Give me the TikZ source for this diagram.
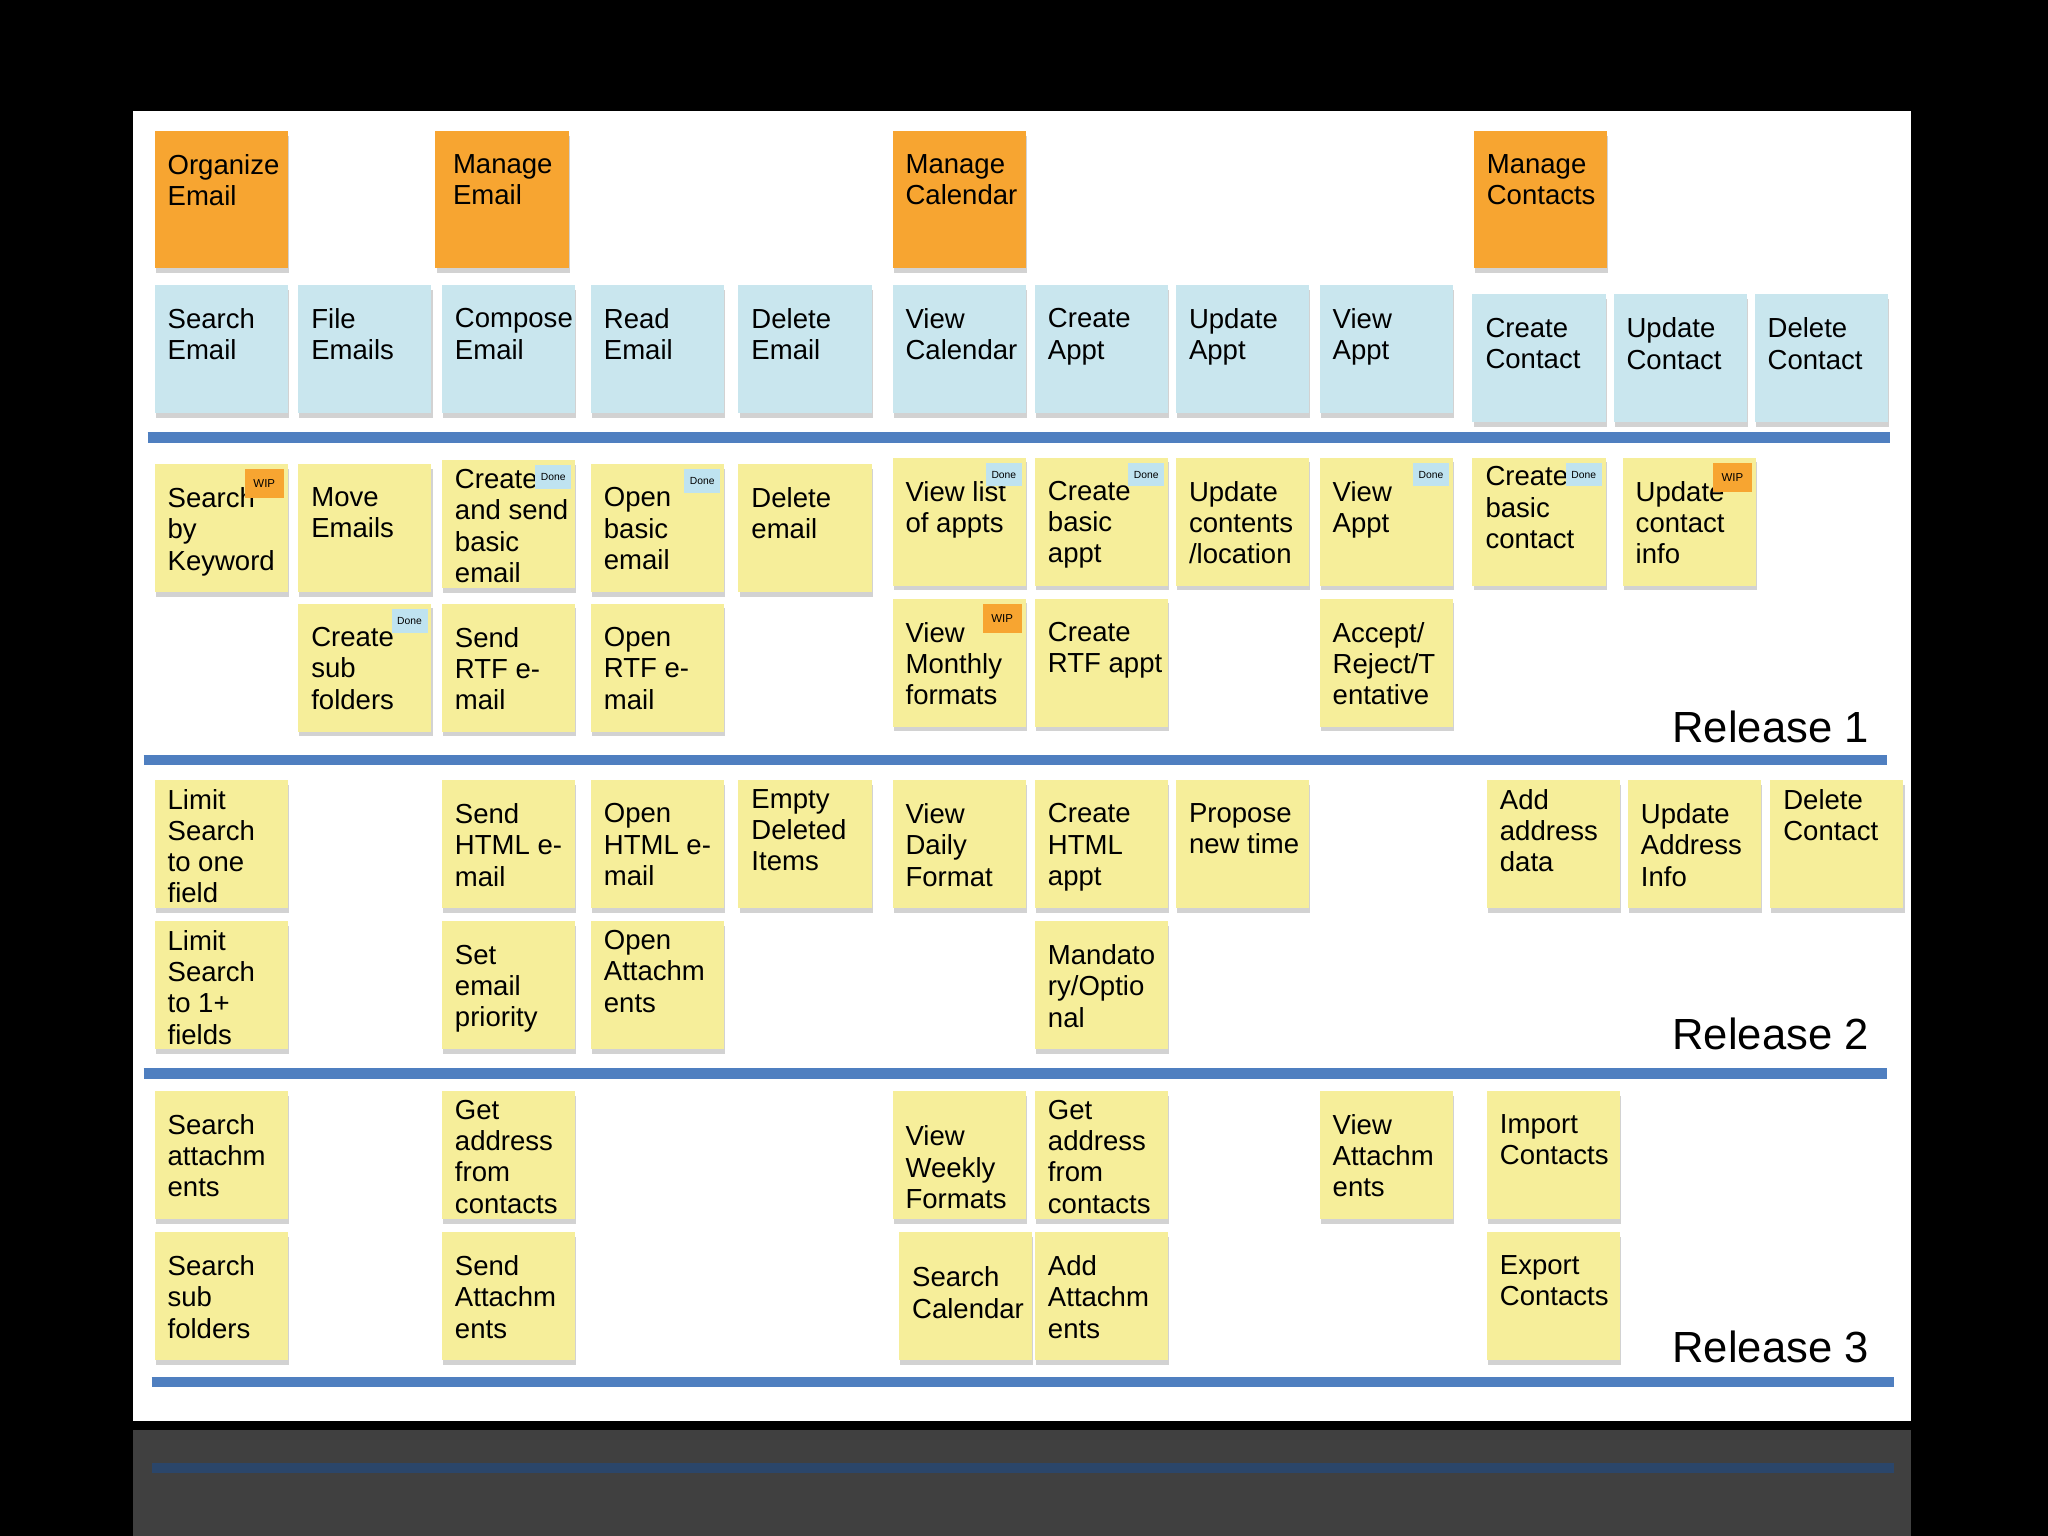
\documentclass[tikz,border=0pt]{standalone}
\usepackage{fontspec}
\setmainfont{Liberation Sans}
\usetikzlibrary{shadows}
\definecolor{yel}{HTML}{F6EE9A}
\definecolor{blu}{HTML}{C9E6EE}
\definecolor{org}{HTML}{F7A531}
\definecolor{bar}{HTML}{4F7FC0}
\definecolor{tagb}{HTML}{BFE3F0}
\tikzset{
 notebase/.style={anchor=north west,minimum width=2.04cm,minimum height=1.96cm,inner sep=0pt,
   drop shadow={shadow xshift=0.5pt,shadow yshift=-2pt,opacity=0.35}},
 ynote/.style={notebase,fill=yel},
 bnote/.style={notebase,fill=blu},
 onote/.style={notebase,fill=org,minimum height=2.1cm},
 txt/.style={anchor=north west,align=left,inner sep=0pt,font=\fontsize{12}{13.6}\selectfont},
 done/.style={fill=tagb,font=\fontsize{4.5}{5}\selectfont,inner sep=1pt,minimum width=0.55cm,minimum height=0.36cm,anchor=north east},
 wip/.style={fill=org,font=\fontsize{5}{5}\selectfont,inner sep=1pt,minimum width=0.6cm,minimum height=0.44cm,anchor=north east},
 relbar/.style={draw=bar,line width=4.5pt},
 rel/.style={anchor=south east,font=\fontsize{19}{20}\selectfont}
}
\newcommand{\tagdone}{Done}
\newcommand{\tagwip}{WIP}
\newcommand{\tshift}{-0.36cm}
\newcommand{\nt}[6]{%
 \node[#4] (#1) at (#2,#3) {};
 \node[txt] (#1t) at ([xshift=0.2cm,yshift=\tshift]#1.north west) {#5};
 \ifx&#6&\else\node[#6] (#1g) at ([xshift=-0.06cm,yshift=-0.08cm]#1.north east) {\csname tag#6\endcsname};\fi}
\newcommand{\ntf}[6]{{\renewcommand{\tshift}{-0.14cm}\nt{#1}{#2}{#3}{#4}{#5}{#6}}}
\begin{document}
\begin{tikzpicture}[x=0.02cm,y=-0.02cm]
\fill[black] (0,0) rectangle (1568,1176);
\useasboundingbox (0,0) rectangle (1568,1176);
\fill[white] (102,85) rectangle (1463,1088);
\fill[black!75] (102,1095) rectangle (1463,1176);
\fill[bar!55!black] (116,1120) rectangle (1450,1128);
% epics
\nt{o1}{118}{100}{onote}{Organize\\Email}{}
\nt{o2}{333}{100}{onote}{\,Manage\\\,Email}{}
\nt{o3}{683}{100}{onote}{Manage\\Calendar}{}
\nt{o4}{1128}{100}{onote}{Manage\\Contacts}{}
% activities
\nt{b1}{118}{218}{bnote}{Search\\Email}{}
\nt{b2}{228}{218}{bnote}{File\\Emails}{}
\nt{b3}{338}{218}{bnote}{Compose\\Email}{}
\nt{b4}{452}{218}{bnote}{Read\\Email}{}
\nt{b5}{565}{218}{bnote}{Delete\\Email}{}
\nt{b6}{683}{218}{bnote}{View\\Calendar}{}
\nt{b7}{792}{218}{bnote}{Create\\Appt}{}
\nt{b8}{900}{218}{bnote}{Update\\Appt}{}
\nt{b9}{1010}{218}{bnote}{View\\Appt}{}
\nt{b10}{1127}{225}{bnote}{Create\\Contact}{}
\nt{b11}{1235}{225}{bnote}{Update\\Contact}{}
\nt{b12}{1343}{225}{bnote}{Delete\\Contact}{}
\coordinate (l1a) at (113,335); \coordinate (l1b) at (1447,335);
\draw[relbar] (l1a) -- (l1b);
% release 1
\nt{a1}{118}{355}{ynote}{Search\\by\\Keyword}{wip}
\nt{a2}{228}{355}{ynote}{Move\\Emails}{}
\ntf{a3}{338}{352}{ynote}{Create\\and send\\basic\\email}{done}
\nt{a4}{452}{355}{ynote}{Open\\basic\\email}{done}
\nt{a5}{565}{355}{ynote}{Delete\\email}{}
\nt{a6}{683}{350}{ynote}{View list\\of appts}{done}
\nt{a7}{792}{350}{ynote}{Create\\basic\\appt}{done}
\nt{a8}{900}{350}{ynote}{Update\\contents\\/location}{}
\nt{a9}{1010}{350}{ynote}{View\\Appt}{done}
\ntf{a10}{1127}{350}{ynote}{Create\\basic\\contact}{done}
\nt{a11}{1242}{350}{ynote}{Update\\contact\\info}{wip}
\nt{c2}{228}{462}{ynote}{Create\\sub\\folders}{done}
\nt{c3}{338}{462}{ynote}{Send\\RTF e-\\mail}{}
\nt{c4}{452}{462}{ynote}{Open\\RTF e-\\mail}{}
\nt{c6}{683}{458}{ynote}{View\\Monthly\\formats}{wip}
\nt{c7}{792}{458}{ynote}{Create\\RTF appt}{}
\nt{c9}{1010}{458}{ynote}{Accept/\\Reject/T\\entative}{}
\node[rel] (r1) at (1437,575) {Release 1};
\coordinate (l2a) at (110,582); \coordinate (l2b) at (1445,582);
\draw[relbar] (l2a) -- (l2b);
% release 2
\ntf{d1}{118}{597}{ynote}{Limit\\Search\\to one\\field}{}
\nt{d3}{338}{597}{ynote}{Send\\HTML e-\\mail}{}
\nt{d4}{452}{597}{ynote}{Open\\HTML e-\\mail}{}
\ntf{d5}{565}{597}{ynote}{Empty\\Deleted\\Items}{}
\nt{d6}{683}{597}{ynote}{View\\Daily\\Format}{}
\nt{d7}{792}{597}{ynote}{Create\\HTML\\appt}{}
\nt{d8}{900}{597}{ynote}{Propose\\new time}{}
\ntf{d10}{1138}{597}{ynote}{Add\\address\\data}{}
\nt{d11}{1246}{597}{ynote}{Update\\Address\\Info}{}
\ntf{d12}{1355}{597}{ynote}{Delete\\Contact}{}
\ntf{e1}{118}{705}{ynote}{Limit\\Search\\to 1+\\fields}{}
\nt{e3}{338}{705}{ynote}{Set\\email\\priority}{}
\ntf{e4}{452}{705}{ynote}{Open\\Attachm\\ents}{}
\nt{e7}{792}{705}{ynote}{Mandato\\ry/Optio\\nal}{}
\node[rel] (r2) at (1437,810) {Release 2};
\coordinate (l3a) at (110,822); \coordinate (l3b) at (1445,822);
\draw[relbar] (l3a) -- (l3b);
% release 3
\nt{f1}{118}{835}{ynote}{Search\\attachm\\ents}{}
\ntf{f3}{338}{835}{ynote}{Get\\address\\from\\contacts}{}
\nt{f6}{683}{835}{ynote}{\\View\\Weekly\\Formats}{}
\ntf{f7}{792}{835}{ynote}{Get\\address\\from\\contacts}{}
\nt{f9}{1010}{835}{ynote}{View\\Attachm\\ents}{}
\nt{f10}{1138}{835}{ynote}{Import\\Contacts}{}
\nt{g1}{118}{943}{ynote}{Search\\sub\\folders}{}
\nt{g3}{338}{943}{ynote}{Send\\Attachm\\ents}{}
\nt{g6}{688}{943}{ynote}{\\Search\\Calendar}{}
\nt{g7}{792}{943}{ynote}{Add\\Attachm\\ents}{}
\nt{g10}{1138}{943}{ynote}{Export\\Contacts}{}
\node[rel] (r3) at (1437,1050) {Release 3};
\coordinate (l4a) at (116,1058); \coordinate (l4b) at (1450,1058);
\draw[relbar] (l4a) -- (l4b);
\end{tikzpicture}
\end{document}
